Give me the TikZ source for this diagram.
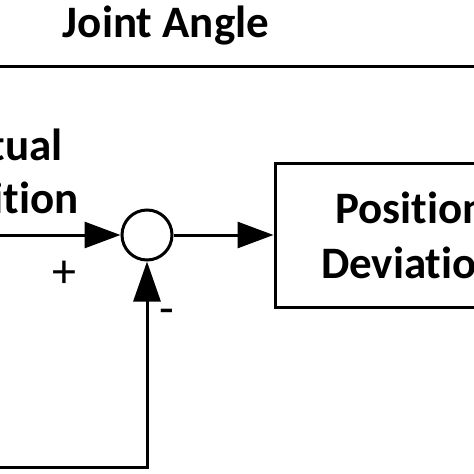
\documentclass[tikz,border=0pt]{standalone}
\usepackage{fontspec}
\setmainfont{Carlito}[Ligatures=NoCommon]
\usetikzlibrary{arrows.meta}
\tikzset{
  wire/.style={line width=3pt},
  arr/.style={wire,-{Triangle[length=36pt,width=26pt]}},
  lbl/.style={font=\fontsize{45}{53}\selectfont\bfseries,align=center,inner sep=0pt},
  sign/.style={font=\fontsize{48}{50}\selectfont,inner sep=0pt},
  blockbox/.style={draw,line width=3pt,minimum width=272pt,minimum height=144pt,inner sep=0pt,align=center,font=\fontsize{45}{55}\selectfont\bfseries},
  sumnode/.style={draw,circle,line width=3pt,minimum size=50pt,inner sep=0pt}
}
\begin{document}
\begin{tikzpicture}[x=1pt,y=-1pt]
\useasboundingbox (0,0) rectangle (474,474);
\clip (0,0) rectangle (474,474);
\fill[white] (0,0) rectangle (474,474);
\node[lbl,anchor=base] (title) at (166,37) {Joint Angle};
\coordinate (tl) at (-5,66);
\coordinate (tr) at (480,66);
\draw[wire] (tl) -- (tr);
\node[lbl,anchor=base] (actual) at (3,213) {Actual\\Position};
\node[sumnode] (sum) at (147,235) {};
\node[blockbox] (dev) at (411,235) {Position\\Deviation};
\coordinate (in) at (-5,235);
\coordinate (fb) at (-5,467);
\draw[arr] (in) -- (sum.west);
\draw[arr] (sum.east) -- (dev.west);
\draw[wire,-{Triangle[length=40pt,width=27pt]}] (fb) -| (sum.south);
\node[sign] (plus) at (64,274) {+};
\node[sign] (minus) at (167,317) {-};
\end{tikzpicture}
\end{document}
